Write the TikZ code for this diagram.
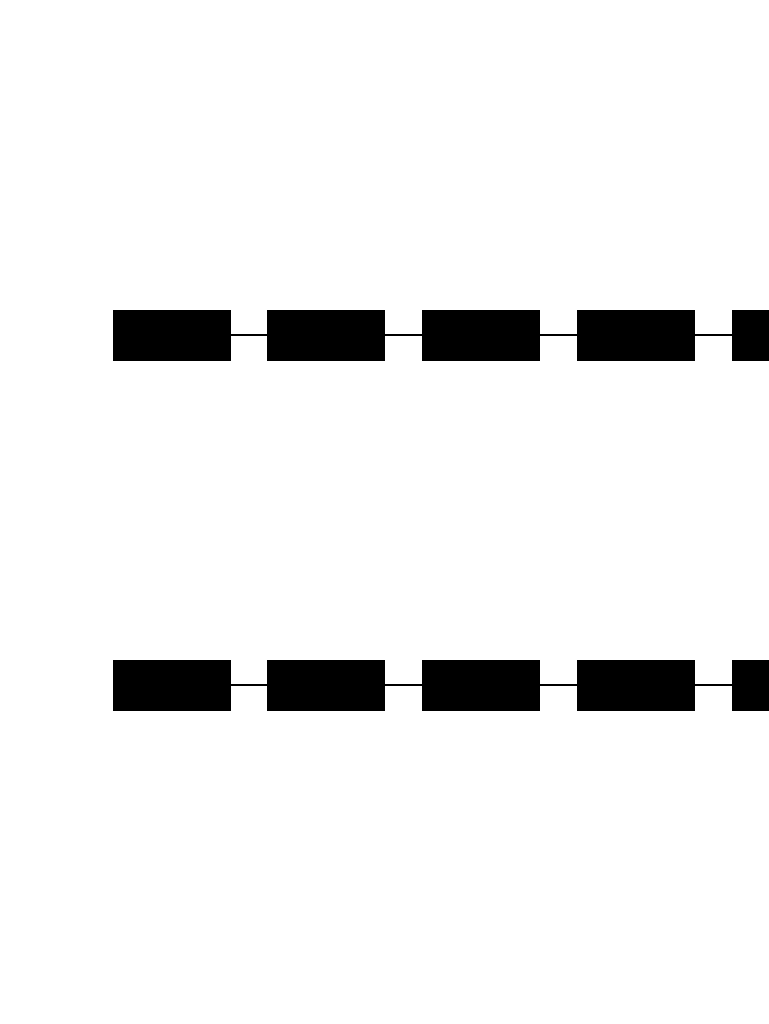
\documentclass[tikz,border=0pt]{standalone}
\begin{document}
\begin{tikzpicture}[x=0.75pt,y=-0.75pt,
  blk/.style={draw=black,fill=black,rectangle,minimum width=87.75pt,minimum height=37.5pt,inner sep=0pt,line width=0.4pt},
  link/.style={draw=black,line width=0.9pt}]
\fill[white] (0,0) rectangle (768,1024);
\useasboundingbox (0,0) rectangle (768,1024);
\foreach \r/\y in {a/335,b/685}{
  \node[blk] (\r1) at (171.5,\y) {};
  \node[blk] (\r2) at (326.2,\y) {};
  \node[blk] (\r3) at (481,\y) {};
  \node[blk] (\r4) at (635.7,\y) {};
  \node[blk] (\r5) at (790.5,\y) {};
  \draw[link] (\r1) -- (\r2);
  \draw[link] (\r2) -- (\r3);
  \draw[link] (\r3) -- (\r4);
  \draw[link] (\r4) -- (\r5);
}
\end{tikzpicture}
\end{document}
